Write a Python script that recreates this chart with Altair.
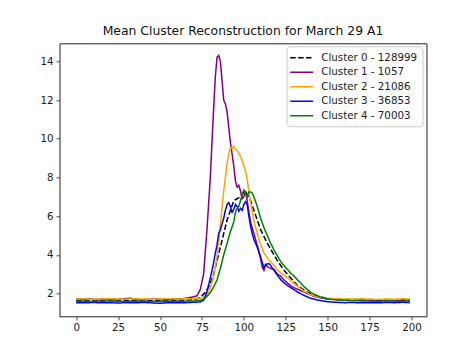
import altair as alt
import pandas as pd

labels = ["Cluster 0 - 128999", "Cluster 1 - 1057", "Cluster 2 - 21086",
          "Cluster 3 - 36853", "Cluster 4 - 70003"]
colors = ["black", "purple", "orange", "blue", "green"]

base_t = [0, 5, 10, 15, 20, 25, 30, 35, 40, 45, 50, 55, 60, 65, 70]
tail_t = [155, 160, 165, 170, 175, 180, 185, 190, 195, 199]

# Cluster 0 (dashed black)
c0_t = base_t + [74, 77, 80, 82, 84, 86, 88, 90, 92, 94, 96, 98, 100, 101, 102, 104,
                 106, 108, 110, 112, 114, 116, 118, 120, 122, 124, 126, 128, 130, 132,
                 134, 137, 140, 145, 150] + tail_t
c0_v = [1.63, 1.64, 1.62, 1.63, 1.64, 1.62, 1.63, 1.63, 1.62, 1.64, 1.63, 1.62, 1.64, 1.65, 1.68,
        1.8, 2.05, 2.5, 3.0, 3.7, 4.4, 5.1, 5.8, 6.3, 6.8, 6.9, 7.0, 7.25, 7.3, 7.1, 6.8,
        6.3, 5.8, 5.3, 4.95, 4.6, 4.3, 4.0, 3.7, 3.45, 3.2, 3.0, 2.8, 2.6, 2.42,
        2.3, 2.12, 1.98, 1.85, 1.75,
        1.7, 1.68, 1.66, 1.65, 1.64, 1.63, 1.63, 1.64, 1.63, 1.64]

# Cluster 1 (purple)
c1_t = [0, 4, 8, 12, 16, 20, 24, 28, 32, 36, 40, 44, 48, 52, 56, 60, 64, 68, 70, 72, 74,
        76, 78, 80, 82, 83, 84, 85, 86, 87, 88, 89, 90, 92, 94, 95, 96, 97, 98, 99, 100,
        101, 102, 103, 104, 106, 108, 110, 111, 112, 113, 114, 116, 118, 120, 122, 124,
        126, 128, 130, 134, 138, 142, 146, 150, 155, 160, 165, 170, 175, 180, 185, 190,
        195, 199]
c1_v = [1.72, 1.7, 1.74, 1.68, 1.72, 1.7, 1.69, 1.73, 1.76, 1.7, 1.68, 1.7, 1.72, 1.69,
        1.7, 1.71, 1.74, 1.8, 1.83, 1.88, 2.2,
        3.0, 5.3, 8.0, 11.6, 13.2, 14.2, 14.3, 14.0, 13.0, 12.0, 11.8, 11.4, 9.8, 8.6,
        7.8, 7.5, 7.6, 7.3, 6.9, 7.0, 7.3, 6.8, 6.2, 5.7, 5.1, 4.5, 3.8, 3.35, 3.2, 3.5,
        3.4, 3.3, 3.25, 3.0, 2.9, 2.7, 2.55, 2.4, 2.3, 2.15, 2.0, 1.85, 1.78, 1.72,
        1.7, 1.68, 1.7, 1.67, 1.65, 1.68, 1.66, 1.64, 1.68, 1.66]

# Cluster 2 (orange)
c2_t = base_t + [74, 76, 78, 80, 82, 84, 86, 88, 90, 91, 92, 93, 94, 95, 96, 98, 100,
                 101, 102, 103, 104, 106, 108, 110, 112, 114, 116, 118, 120, 123, 126,
                 129, 132, 136, 140, 145, 150] + tail_t
c2_v = [1.72, 1.73, 1.71, 1.72, 1.74, 1.72, 1.71, 1.73, 1.72, 1.71, 1.72, 1.74, 1.72, 1.73, 1.74,
        1.75, 1.8, 1.95, 2.3, 2.9, 3.9, 5.6, 7.3, 8.7, 9.2, 9.55, 9.5, 9.6, 9.45, 9.4,
        9.1, 8.6, 8.3, 7.9, 7.3, 6.7, 5.8, 5.1, 4.55, 4.1, 3.85, 3.65, 3.45, 3.22, 3.0,
        2.82, 2.6, 2.38, 2.12, 1.93, 1.8, 1.75,
        1.73, 1.72, 1.71, 1.73, 1.72, 1.7, 1.72, 1.71, 1.73, 1.72]

# Cluster 3 (blue)
c3_t = base_t + [74, 76, 78, 80, 82, 83, 84, 85, 86, 87, 88, 89, 90, 91, 92, 93, 94, 95,
                 96, 97, 98, 99, 100, 101, 102, 103, 104, 105, 106, 108, 110, 111, 112,
                 113, 115, 116, 118, 120, 122, 124, 126, 129, 132, 136, 140, 145, 150] + tail_t
c3_v = [1.53, 1.52, 1.54, 1.52, 1.53, 1.51, 1.53, 1.52, 1.54, 1.52, 1.5, 1.53, 1.52, 1.53, 1.55,
        1.57, 1.65, 2.1, 2.8, 3.6, 4.1, 4.5, 5.1, 5.3, 5.6, 5.9, 6.3, 6.6, 6.7, 6.5,
        6.2, 6.35, 6.6, 6.5, 6.25, 6.4, 6.3, 6.6, 6.75, 6.6, 6.0, 5.5, 5.1, 4.8, 4.4,
        3.9, 3.6, 3.35, 3.5, 3.55, 3.45, 3.2, 2.95, 2.72, 2.55, 2.42, 2.25, 2.08, 1.9,
        1.75, 1.65, 1.58,
        1.55, 1.53, 1.54, 1.52, 1.53, 1.52, 1.54, 1.53, 1.55, 1.53]

# Cluster 4 (green)
c4_t = base_t + [74, 76, 78, 80, 82, 84, 86, 88, 90, 91, 92, 93, 94, 95, 96, 97, 98, 99,
                 100, 101, 102, 103, 104, 105, 106, 107, 108, 110, 112, 114, 116, 118,
                 120, 122, 124, 126, 128, 130, 132, 134, 136, 138, 140, 143, 146, 150] + tail_t
c4_v = [1.6, 1.61, 1.59, 1.6, 1.62, 1.6, 1.59, 1.61, 1.6, 1.59, 1.6, 1.61, 1.6, 1.61, 1.62,
        1.65, 1.7, 1.85, 2.05, 2.35, 2.7, 3.3, 4.0, 4.6, 4.9, 5.2, 5.45, 5.7, 6.2, 6.4,
        6.5, 6.8, 7.1, 7.35, 7.2, 7.0, 7.25, 7.25, 7.2, 7.0, 6.75, 6.5, 5.9, 5.4, 5.0,
        4.6, 4.25, 3.95, 3.65, 3.45, 3.25, 3.05, 2.9, 2.7, 2.55, 2.35, 2.2, 2.05, 1.92,
        1.8, 1.72,
        1.68, 1.65, 1.63, 1.62, 1.61, 1.6, 1.62, 1.61, 1.6, 1.62]

series = [(c0_t, c0_v), (c1_t, c1_v), (c2_t, c2_v), (c3_t, c3_v), (c4_t, c4_v)]
rows = []
for lab, (ts, vs) in zip(labels, series):
    for t, v in zip(ts, vs):
        rows.append({"t": t, "v": v, "cluster": lab})
df = pd.DataFrame(rows)

x_ticks = [0, 25, 50, 75, 100, 125, 150, 175, 200]
y_ticks = [2, 4, 6, 8, 10, 12, 14]

chart = alt.Chart(df).mark_line(strokeWidth=1.5).encode(
    x=alt.X("t:Q", scale=alt.Scale(domain=[-9.95, 208.95], nice=False, zero=False),
            axis=alt.Axis(values=x_ticks, title=None, grid=False, domain=False,
                          tickSize=3.5, tickWidth=0.8, tickColor="#222",
                          labelFontSize=10.3, labelColor="#222", labelPadding=3,
                          labelFont="DejaVu Sans", labelFlush=False)),
    y=alt.Y("v:Q", scale=alt.Scale(domain=[0.826, 14.93], nice=False, zero=False),
            axis=alt.Axis(values=y_ticks, title=None, grid=False, domain=False,
                          tickSize=3.5, tickWidth=0.8, tickColor="#222",
                          labelFontSize=10.3, labelColor="#222", labelPadding=3,
                          labelFont="DejaVu Sans", labelFlush=False)),
    color=alt.Color("cluster:N", scale=alt.Scale(domain=labels, range=colors),
                    legend=alt.Legend(title=None, orient="none", legendX=227, legendY=3,
                                      symbolType="M-2,0H2", symbolSize=132,
                                      symbolStrokeWidth=1.5, symbolOffset=3.75,
                                      labelFontSize=10.3,
                                      labelFont="DejaVu Sans", labelColor="#222",
                                      fillColor="white", strokeColor="#cccccc",
                                      cornerRadius=3, padding=5, rowPadding=2.5,
                                      labelOffset=13)),
    strokeDash=alt.StrokeDash("cluster:N",
                              scale=alt.Scale(domain=labels,
                                              range=[[5.5, 2.4], [1, 0], [1, 0], [1, 0], [1, 0]]),
                              legend=None),
    order="t:Q",
).properties(
    width=367, height=273,
    title=alt.Title("Mean Cluster Reconstruction for March 29 A1", fontSize=12.4,
                    font="DejaVu Sans", fontWeight="normal", color="#111", offset=6),
    autosize=alt.AutoSizeParams(type="none"),
    padding={"left": 51.5, "top": 35.3, "right": 30, "bottom": 30},
).configure_view(stroke="#222", strokeWidth=1)

chart.save("out.html", embed_options={"renderer": "svg", "actions": False})
